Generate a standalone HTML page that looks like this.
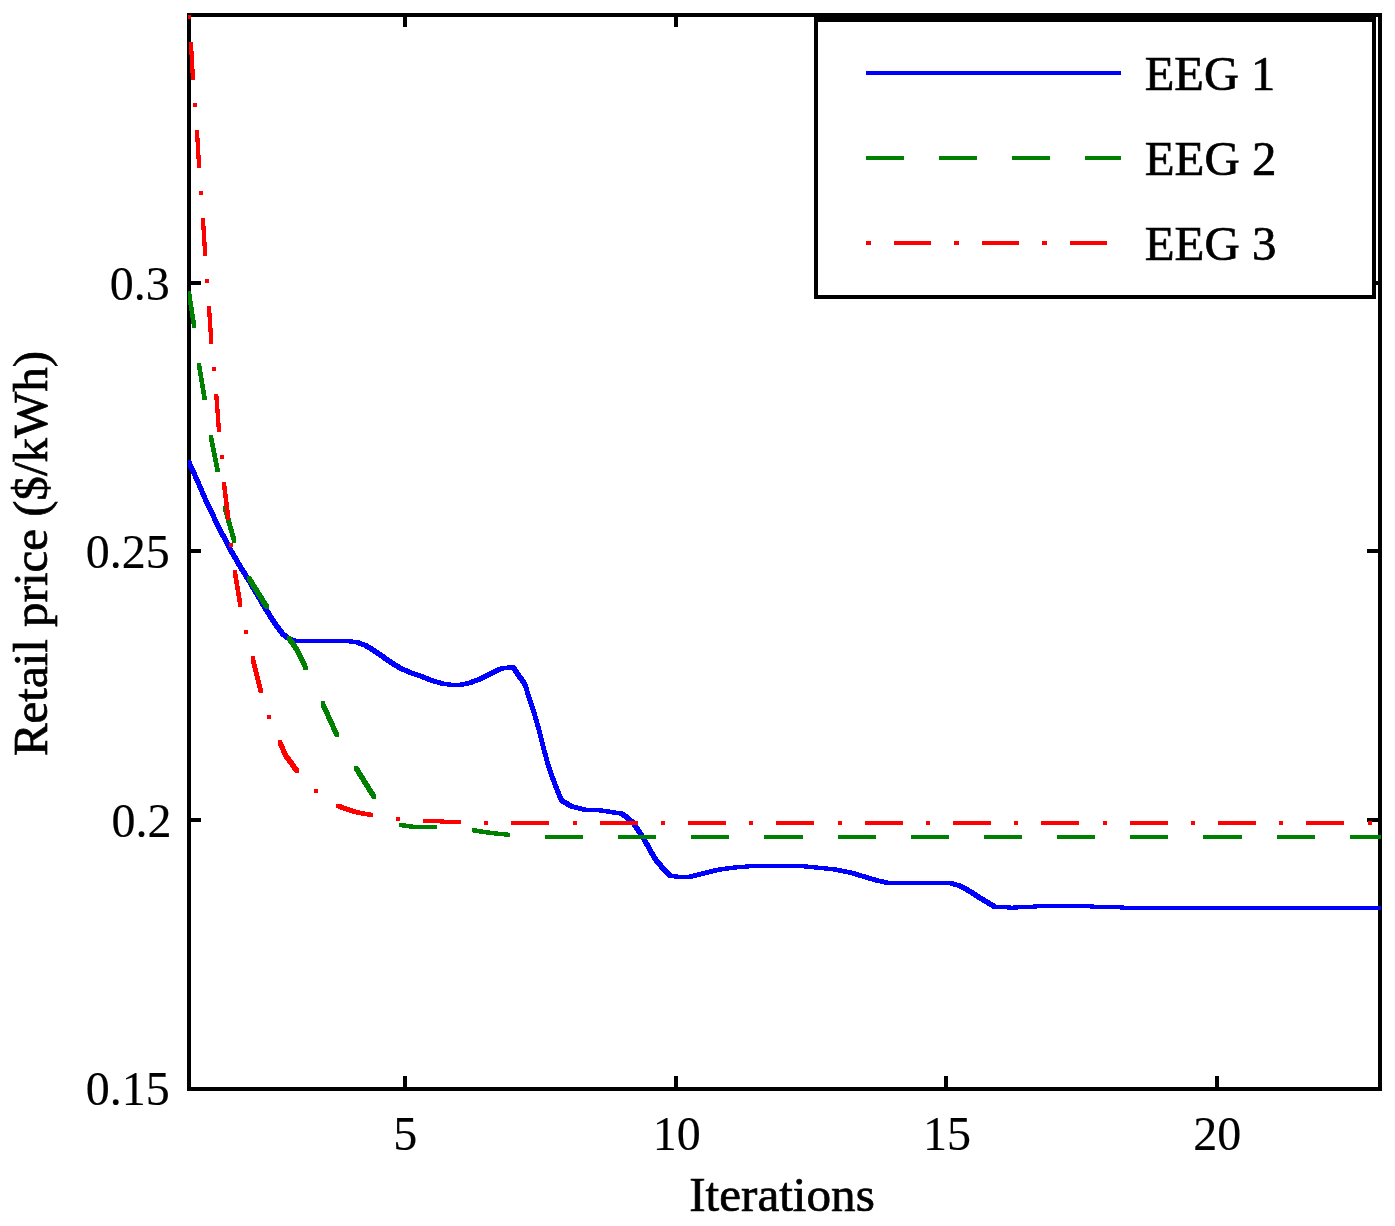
<!DOCTYPE html>
<html lang="en"><head><meta charset="utf-8"><title>Retail price vs Iterations</title>
<style>
html,body{margin:0;padding:0;background:#fff;}
body{width:1395px;height:1226px;overflow:hidden;}
svg{display:block;}
text{font-family:"Liberation Serif","Times New Roman",Times,serif;font-size:48px;fill:#000;stroke:#000;stroke-width:0.7px;}
text.t{stroke-width:0.15px;}
</style></head><body>
<svg width="1395" height="1226" viewBox="0 0 1395 1226">
<rect x="0" y="0" width="1395" height="1226" fill="#fff"/>
<g fill="#000" shape-rendering="crispEdges">
<rect x="187" y="13" width="4" height="1078"/>
<rect x="1378" y="13" width="4" height="1078"/>
<rect x="187" y="13" width="1195" height="4"/>
<rect x="187" y="1087" width="1195" height="4"/>
<rect x="403" y="13" width="4" height="14"/>
<rect x="403" y="1076" width="4" height="15"/>
<rect x="674" y="13" width="4" height="14"/>
<rect x="674" y="1076" width="4" height="15"/>
<rect x="944" y="13" width="4" height="14"/>
<rect x="944" y="1076" width="4" height="15"/>
<rect x="1215" y="13" width="4" height="14"/>
<rect x="1215" y="1076" width="4" height="15"/>
<rect x="187" y="281" width="14" height="4"/>
<rect x="1367" y="281" width="15" height="4"/>
<rect x="187" y="549" width="14" height="4"/>
<rect x="1367" y="549" width="15" height="4"/>
<rect x="187" y="818" width="14" height="4"/>
<rect x="1367" y="818" width="15" height="4"/>
<rect x="187" y="1087" width="14" height="4"/>
<rect x="1367" y="1087" width="15" height="4"/>
</g>
<clipPath id="ax"><rect x="188" y="14" width="1193" height="1076"/></clipPath>
<g clip-path="url(#ax)" stroke="none" shape-rendering="crispEdges">
<path fill="#0000ff" d="M187.0 460.2 191.0 460.2 199.6 479.3 199.6 483.3 195.6 483.3 187.0 464.2ZM195.6 479.3 199.6 479.3 207.8 498.2 207.8 502.2 203.8 502.2 195.6 483.3ZM203.8 498.2 207.8 498.2 216.4 516.3 216.4 520.3 212.4 520.3 203.8 502.2ZM212.4 516.3 216.4 516.3 225.0 533.5 225.0 537.5 221.0 537.5 212.4 520.3ZM221.0 533.5 225.0 533.5 233.6 549.8 233.6 553.8 229.6 553.8 221.0 537.5ZM229.6 549.8 233.6 549.8 242.2 564.5 242.2 568.5 238.2 568.5 229.6 553.8ZM238.2 564.5 242.2 564.5 250.8 578.2 250.8 582.2 246.8 582.2 238.2 568.5ZM246.8 578.2 250.8 578.2 259.4 592.8 259.4 596.8 255.4 596.8 246.8 582.2ZM255.4 592.8 259.4 592.8 268.0 607.5 268.0 611.5 264.0 611.5 255.4 596.8ZM264.0 607.5 268.0 607.5 276.6 621.2 276.6 625.2 272.6 625.2 264.0 611.5ZM272.6 621.2 276.6 621.2 285.2 632.4 285.2 636.4 281.2 636.4 272.6 625.2ZM281.2 632.4 285.2 632.4 289.5 635.8 289.5 639.8 285.5 639.8 281.2 636.4ZM285.5 635.8 289.5 635.8 295.5 638.4 295.5 642.4 291.5 642.4 285.5 639.8ZM291.5 638.4 295.5 638.4 299.5 639.0 299.5 643.0 295.5 643.0 291.5 642.4ZM295.5 639.0 299.5 639.0 350.6 639.2 350.6 643.2 346.6 643.2 295.5 643.0ZM346.6 639.2 350.6 639.2 359.2 640.2 359.2 644.2 355.2 644.2 346.6 643.2ZM355.2 640.2 359.2 640.2 367.8 643.6 367.8 647.6 363.8 647.6 355.2 644.2ZM363.8 643.6 367.8 643.6 376.4 648.8 376.4 652.8 372.4 652.8 363.8 647.6ZM372.4 648.8 376.4 648.8 385.0 654.8 385.0 658.8 381.0 658.8 372.4 652.8ZM381.0 654.8 385.0 654.8 393.6 660.8 393.6 664.8 389.6 664.8 381.0 658.8ZM389.6 660.8 393.6 660.8 402.2 666.0 402.2 670.0 398.2 670.0 389.6 664.8ZM398.2 666.0 402.2 666.0 410.8 670.0 410.8 674.0 406.8 674.0 398.2 670.0ZM406.8 670.0 410.8 670.0 419.4 672.8 419.4 676.8 415.4 676.8 406.8 674.0ZM415.4 672.8 419.4 672.8 428.0 676.3 428.0 680.3 424.0 680.3 415.4 676.8ZM424.0 676.3 428.0 676.3 436.6 679.4 436.6 683.4 432.6 683.4 424.0 680.3ZM432.6 679.4 436.6 679.4 445.2 681.8 445.2 685.8 441.2 685.8 432.6 683.4ZM441.2 681.8 445.2 681.8 453.8 682.8 453.8 686.8 449.8 686.8 441.2 685.8ZM449.8 682.8 462.4 682.8 462.4 686.8 449.8 686.8ZM458.4 682.8 467.0 681.1 471.0 681.1 471.0 685.1 462.4 686.8 458.4 686.8ZM467.0 681.1 475.6 678.0 479.6 678.0 479.6 682.0 471.0 685.1 467.0 685.1ZM475.6 678.0 484.2 673.7 488.2 673.7 488.2 677.7 479.6 682.0 475.6 682.0ZM484.2 673.7 492.8 669.4 496.8 669.4 496.8 673.4 488.2 677.7 484.2 677.7ZM492.8 669.4 498.0 666.8 502.0 666.8 502.0 670.8 496.8 673.4 492.8 673.4ZM498.0 666.8 503.2 666.0 507.2 666.0 507.2 670.0 502.0 670.8 498.0 670.8ZM503.2 666.0 510.9 665.1 514.9 665.1 514.9 669.1 507.2 670.0 503.2 670.0ZM510.9 665.1 514.9 665.1 520.9 673.7 520.9 677.7 516.9 677.7 510.9 669.1ZM516.9 673.7 520.9 673.7 526.9 682.3 526.9 686.3 522.9 686.3 516.9 677.7ZM522.9 682.3 526.9 682.3 531.2 696.0 531.2 700.0 527.2 700.0 522.9 686.3ZM527.2 696.0 531.2 696.0 536.4 711.5 536.4 715.5 532.4 715.5 527.2 700.0ZM532.4 711.5 536.4 711.5 540.7 727.0 540.7 731.0 536.7 731.0 532.4 715.5ZM536.7 727.0 540.7 727.0 545.0 744.2 545.0 748.2 541.0 748.2 536.7 731.0ZM541.0 744.2 545.0 744.2 550.2 763.2 550.2 767.2 546.2 767.2 541.0 748.2ZM546.2 763.2 550.2 763.2 556.2 780.4 556.2 784.4 552.2 784.4 546.2 767.2ZM552.2 780.4 556.2 780.4 563.3 798.3 563.3 802.3 559.3 802.3 552.2 784.4ZM559.3 798.3 563.3 798.3 573.8 804.6 573.8 808.6 569.8 808.6 559.3 802.3ZM569.8 804.6 573.8 804.6 586.7 807.7 586.7 811.7 582.7 811.7 569.8 808.6ZM582.7 807.7 586.7 807.7 600.5 808.2 600.5 812.2 596.5 812.2 582.7 811.7ZM596.5 808.2 600.5 808.2 610.8 809.7 610.8 813.7 606.8 813.7 596.5 812.2ZM606.8 809.7 610.8 809.7 622.9 811.5 622.9 815.5 618.9 815.5 606.8 813.7ZM618.9 811.5 622.9 811.5 628.0 814.6 628.0 818.6 624.0 818.6 618.9 815.5ZM624.0 814.6 628.0 814.6 634.9 820.6 634.9 824.6 630.9 824.6 624.0 818.6ZM630.9 820.6 634.9 820.6 640.9 829.2 640.9 833.2 636.9 833.2 630.9 824.6ZM636.9 829.2 640.9 829.2 646.9 838.6 646.9 842.6 642.9 842.6 636.9 833.2ZM642.9 838.6 646.9 838.6 652.1 848.1 652.1 852.1 648.1 852.1 642.9 842.6ZM648.1 848.1 652.1 848.1 658.1 858.4 658.1 862.4 654.1 862.4 648.1 852.1ZM654.1 858.4 658.1 858.4 664.2 865.3 664.2 869.3 660.2 869.3 654.1 862.4ZM660.2 865.3 664.2 865.3 672.8 873.9 672.8 877.9 668.8 877.9 660.2 869.3ZM668.8 873.9 672.8 873.9 683.1 875.1 683.1 879.1 679.1 879.1 668.8 877.9ZM679.1 875.1 687.7 874.8 691.7 874.8 691.7 878.8 683.1 879.1 679.1 879.1ZM687.7 874.8 701.4 871.3 705.4 871.3 705.4 875.3 691.7 878.8 687.7 878.8ZM701.4 871.3 715.2 867.9 719.2 867.9 719.2 871.9 705.4 875.3 701.4 875.3ZM715.2 867.9 727.2 866.2 731.2 866.2 731.2 870.2 719.2 871.9 715.2 871.9ZM727.2 866.2 739.3 864.8 743.3 864.8 743.3 868.8 731.2 870.2 727.2 870.2ZM739.3 864.8 753.0 864.1 757.0 864.1 757.0 868.1 743.3 868.8 739.3 868.8ZM753.0 864.1 778.0 864.0 782.0 864.0 782.0 868.0 757.0 868.1 753.0 868.1ZM778.0 864.0 802.9 864.0 802.9 868.0 778.0 868.0ZM798.9 864.0 802.9 864.0 817.9 865.5 817.9 869.5 813.9 869.5 798.9 868.0ZM813.9 865.5 817.9 865.5 835.1 867.2 835.1 871.2 831.1 871.2 813.9 869.5ZM831.1 867.2 835.1 867.2 852.3 870.5 852.3 874.5 848.3 874.5 831.1 871.2ZM848.3 870.5 852.3 870.5 865.2 874.3 865.2 878.3 861.2 878.3 848.3 874.5ZM861.2 874.3 865.2 874.3 878.1 878.2 878.1 882.2 874.1 882.2 861.2 878.3ZM874.1 878.2 878.1 878.2 888.9 880.8 888.9 884.8 884.9 884.8 874.1 882.2ZM884.9 880.8 951.2 880.8 951.2 884.8 884.9 884.8ZM947.2 880.8 951.2 880.8 962.0 883.8 962.0 887.8 958.0 887.8 947.2 884.8ZM958.0 883.8 962.0 883.8 972.8 889.8 972.8 893.8 968.8 893.8 958.0 887.8ZM968.8 889.8 972.8 889.8 983.5 896.9 983.5 900.9 979.5 900.9 968.8 893.8ZM979.5 896.9 983.5 896.9 996.4 904.5 996.4 908.5 992.4 908.5 979.5 900.9ZM992.4 904.5 996.4 904.5 1013.6 905.7 1013.6 909.7 1009.6 909.7 992.4 908.5ZM1009.6 905.7 1033.3 904.5 1037.3 904.5 1037.3 908.5 1013.6 909.7 1009.6 909.7ZM1033.3 904.5 1058.0 904.0 1062.0 904.0 1062.0 908.0 1037.3 908.5 1033.3 908.5ZM1058.0 904.0 1062.0 904.0 1087.8 904.3 1087.8 908.3 1083.8 908.3 1058.0 908.0ZM1083.8 904.3 1087.8 904.3 1117.0 905.3 1117.0 909.3 1113.0 909.3 1083.8 908.3ZM1113.0 905.3 1117.0 905.3 1142.0 906.0 1142.0 910.0 1138.0 910.0 1113.0 909.3ZM1138.0 906.0 1383.0 906.0 1383.0 910.0 1138.0 910.0Z"/>
<path fill="#008000" d="M187.0 291.0 191.0 291.0 196.1 323.8 196.1 327.8 192.1 327.8 187.0 295.0ZM196.9 362.5 200.9 362.5 206.6 396.2 206.6 400.2 202.6 400.2 196.9 366.5ZM208.8 434.6 212.8 434.6 219.6 468.2 219.6 472.2 215.6 472.2 208.8 438.6ZM223.1 506.4 227.1 506.4 236.4 539.3 236.4 543.3 232.4 543.3 223.1 510.4ZM246.5 575.6 250.5 575.6 268.7 604.6 268.7 608.6 264.7 608.6 246.5 579.6ZM287.1 636.4 291.1 636.4 300.1 649.8 300.1 653.8 296.1 653.8 287.1 640.4ZM296.1 649.8 300.1 649.8 307.8 666.2 307.8 670.2 303.8 670.2 296.1 653.8ZM320.5 701.4 324.5 701.4 324.5 701.4 324.5 705.4 320.5 705.4 320.5 705.4ZM320.5 701.4 324.5 701.4 338.6 732.5 338.6 736.5 334.6 736.5 320.5 705.4ZM354.2 766.2 358.2 766.2 358.2 766.3 358.2 770.3 354.2 770.3 354.2 770.2ZM354.2 766.3 358.2 766.3 376.3 795.2 376.3 799.2 372.3 799.2 354.2 770.3ZM399.3 822.8 403.3 822.8 409.5 824.4 409.5 828.4 405.5 828.4 399.3 826.8ZM405.5 824.4 409.5 824.4 422.0 824.8 422.0 828.8 418.0 828.8 405.5 828.4ZM418.0 824.8 437.3 824.8 437.3 828.8 418.0 828.8ZM472.1 828.4 476.1 828.4 493.8 831.1 493.8 835.1 489.8 835.1 472.1 832.4ZM489.8 831.1 493.8 831.1 510.0 832.7 510.0 836.7 506.0 836.7 489.8 835.1ZM544.9 834.9 583.1 834.9 583.1 838.9 544.9 838.9ZM618.0 834.9 656.2 834.9 656.2 838.9 618.0 838.9ZM691.2 834.9 729.4 834.9 729.4 838.9 691.2 838.9ZM764.4 834.9 802.5 834.9 802.5 838.9 764.4 838.9ZM837.5 834.9 875.7 834.9 875.7 838.9 837.5 838.9ZM910.7 834.9 948.9 834.9 948.9 838.9 910.7 838.9ZM983.8 834.9 1022.0 834.9 1022.0 838.9 983.8 838.9ZM1057.0 834.9 1095.2 834.9 1095.2 838.9 1057.0 838.9ZM1130.2 834.9 1168.3 834.9 1168.3 838.9 1130.2 838.9ZM1203.3 834.9 1241.5 834.9 1241.5 838.9 1203.3 838.9ZM1276.5 834.9 1314.7 834.9 1314.7 838.9 1276.5 838.9ZM1349.6 834.9 1383.0 834.9 1383.0 838.9 1349.6 838.9Z"/>
<path fill="#ff0000" d="M187.0 15.0 191.0 15.0 191.0 19.0 187.0 19.0ZM189.0 41.8 193.0 41.8 194.9 75.8 194.9 79.8 190.9 79.8 189.0 45.8ZM193.2 103.1 197.2 103.1 197.2 107.1 193.2 107.1ZM195.0 129.9 199.0 129.9 201.0 163.9 201.0 167.9 197.0 167.9 195.0 133.9ZM198.8 191.3 202.8 191.3 202.8 195.3 198.8 195.3ZM201.0 218.1 205.0 218.1 207.2 252.0 207.2 256.0 203.2 256.0 201.0 222.1ZM205.0 279.4 209.0 279.4 209.0 283.4 205.0 283.4ZM207.1 306.2 211.1 306.2 213.3 340.1 213.3 344.1 209.3 344.1 207.1 310.2ZM212.0 367.4 216.0 367.4 216.0 371.4 212.0 371.4ZM214.4 394.2 218.4 394.2 220.9 428.1 220.9 432.1 216.9 432.1 214.4 398.2ZM220.1 455.4 224.1 455.4 224.1 459.4 220.1 459.4ZM222.1 482.2 226.1 482.2 230.3 515.9 230.3 519.9 226.3 519.9 222.1 486.2ZM229.3 543.2 233.3 543.2 233.3 547.2 229.3 547.2ZM232.9 569.8 236.9 569.8 242.4 603.4 242.4 607.4 238.4 607.4 232.9 573.8ZM243.9 630.3 247.9 630.3 247.9 634.3 243.9 634.3ZM250.7 656.3 254.7 656.3 258.8 673.0 258.8 677.0 254.8 677.0 250.7 660.3ZM254.8 673.0 258.8 673.0 262.9 689.3 262.9 693.3 258.9 693.3 254.8 677.0ZM267.4 715.4 271.4 715.4 271.4 719.4 267.4 719.4ZM277.9 740.1 281.9 740.1 287.2 753.0 287.2 757.0 283.2 757.0 277.9 744.1ZM283.2 753.0 287.2 753.0 299.2 769.1 299.2 773.1 295.2 773.1 283.2 757.0ZM314.4 788.7 318.4 788.7 318.4 792.7 314.4 792.7ZM336.4 804.1 340.4 804.1 356.8 809.8 356.8 813.8 352.8 813.8 336.4 808.1ZM352.8 809.8 356.8 809.8 373.1 813.0 373.1 817.0 369.1 817.0 352.8 813.8ZM396.2 817.4 400.2 817.4 400.2 821.4 396.2 821.4ZM423.0 819.0 427.0 819.0 461.0 820.0 461.0 824.0 457.0 824.0 423.0 823.0ZM484.4 820.8 488.4 820.8 488.4 824.8 484.4 824.8ZM511.3 820.9 549.3 820.9 549.3 824.9 511.3 824.9ZM572.8 820.9 576.8 820.9 576.8 824.9 572.8 824.9ZM599.7 820.9 637.7 820.9 637.7 824.9 599.7 824.9ZM661.1 820.9 665.1 820.9 665.1 824.9 661.1 824.9ZM688.0 820.9 726.0 820.9 726.0 824.9 688.0 824.9ZM749.4 820.9 753.4 820.9 753.4 824.9 749.4 824.9ZM776.3 820.9 814.3 820.9 814.3 824.9 776.3 824.9ZM837.8 820.9 841.8 820.9 841.8 824.9 837.8 824.9ZM864.6 820.9 902.6 820.9 902.6 824.9 864.6 824.9ZM926.1 820.9 930.1 820.9 930.1 824.9 926.1 824.9ZM953.0 820.9 991.0 820.9 991.0 824.9 953.0 824.9ZM1014.4 820.9 1018.4 820.9 1018.4 824.9 1014.4 824.9ZM1041.3 820.9 1079.3 820.9 1079.3 824.9 1041.3 824.9ZM1102.7 820.9 1106.7 820.9 1106.7 824.9 1102.7 824.9ZM1129.6 820.9 1167.6 820.9 1167.6 824.9 1129.6 824.9ZM1191.1 820.9 1195.1 820.9 1195.1 824.9 1191.1 824.9ZM1218.0 820.9 1256.0 820.9 1256.0 824.9 1218.0 824.9ZM1279.4 820.9 1283.4 820.9 1283.4 824.9 1279.4 824.9ZM1306.3 820.9 1344.3 820.9 1344.3 824.9 1306.3 824.9ZM1367.7 820.9 1371.7 820.9 1371.7 824.9 1367.7 824.9Z"/>
</g>
<g shape-rendering="crispEdges">
<rect x="814" y="17" width="562" height="282" fill="#000"/>
<rect x="818" y="22" width="554" height="273" fill="#fff"/>
<path d="M866 73 H1121" stroke="#0000ff" stroke-width="4" fill="none"/>
<path d="M866 158 H1121" stroke="#008000" stroke-width="4" fill="none" stroke-dasharray="38 35.16"/>
<path d="M866 243 H1108" stroke="#ff0000" stroke-width="4" fill="none" stroke-dasharray="4.5 23.5 37 23"/>
</g>
<text x="1144.8" y="90" textLength="130.3" lengthAdjust="spacingAndGlyphs">EEG 1</text>
<text x="1144.8" y="174.5" textLength="131.5" lengthAdjust="spacingAndGlyphs">EEG 2</text>
<text x="1144.8" y="259.5" textLength="131.5" lengthAdjust="spacingAndGlyphs">EEG 3</text>
<text x="405.3" y="1150" text-anchor="middle" class="t">5</text>
<text x="676.7" y="1150" text-anchor="middle" class="t">10</text>
<text x="947" y="1150" text-anchor="middle" class="t">15</text>
<text x="1217.3" y="1150" text-anchor="middle" class="t">20</text>
<text x="169.8" y="299.75" text-anchor="end" class="t">0.3</text>
<text x="169.8" y="567.75" text-anchor="end" class="t">0.25</text>
<text x="171.5" y="836.75" text-anchor="end" class="t">0.2</text>
<text x="169.8" y="1104.75" text-anchor="end" class="t">0.15</text>
<text x="782" y="1210.7" text-anchor="middle" textLength="185.5" lengthAdjust="spacingAndGlyphs">Iterations</text>
<text transform="translate(46.8 553.5) rotate(-90)" text-anchor="middle" textLength="405.2" lengthAdjust="spacingAndGlyphs">Retail price ($/kWh)</text>
</svg></body></html>
